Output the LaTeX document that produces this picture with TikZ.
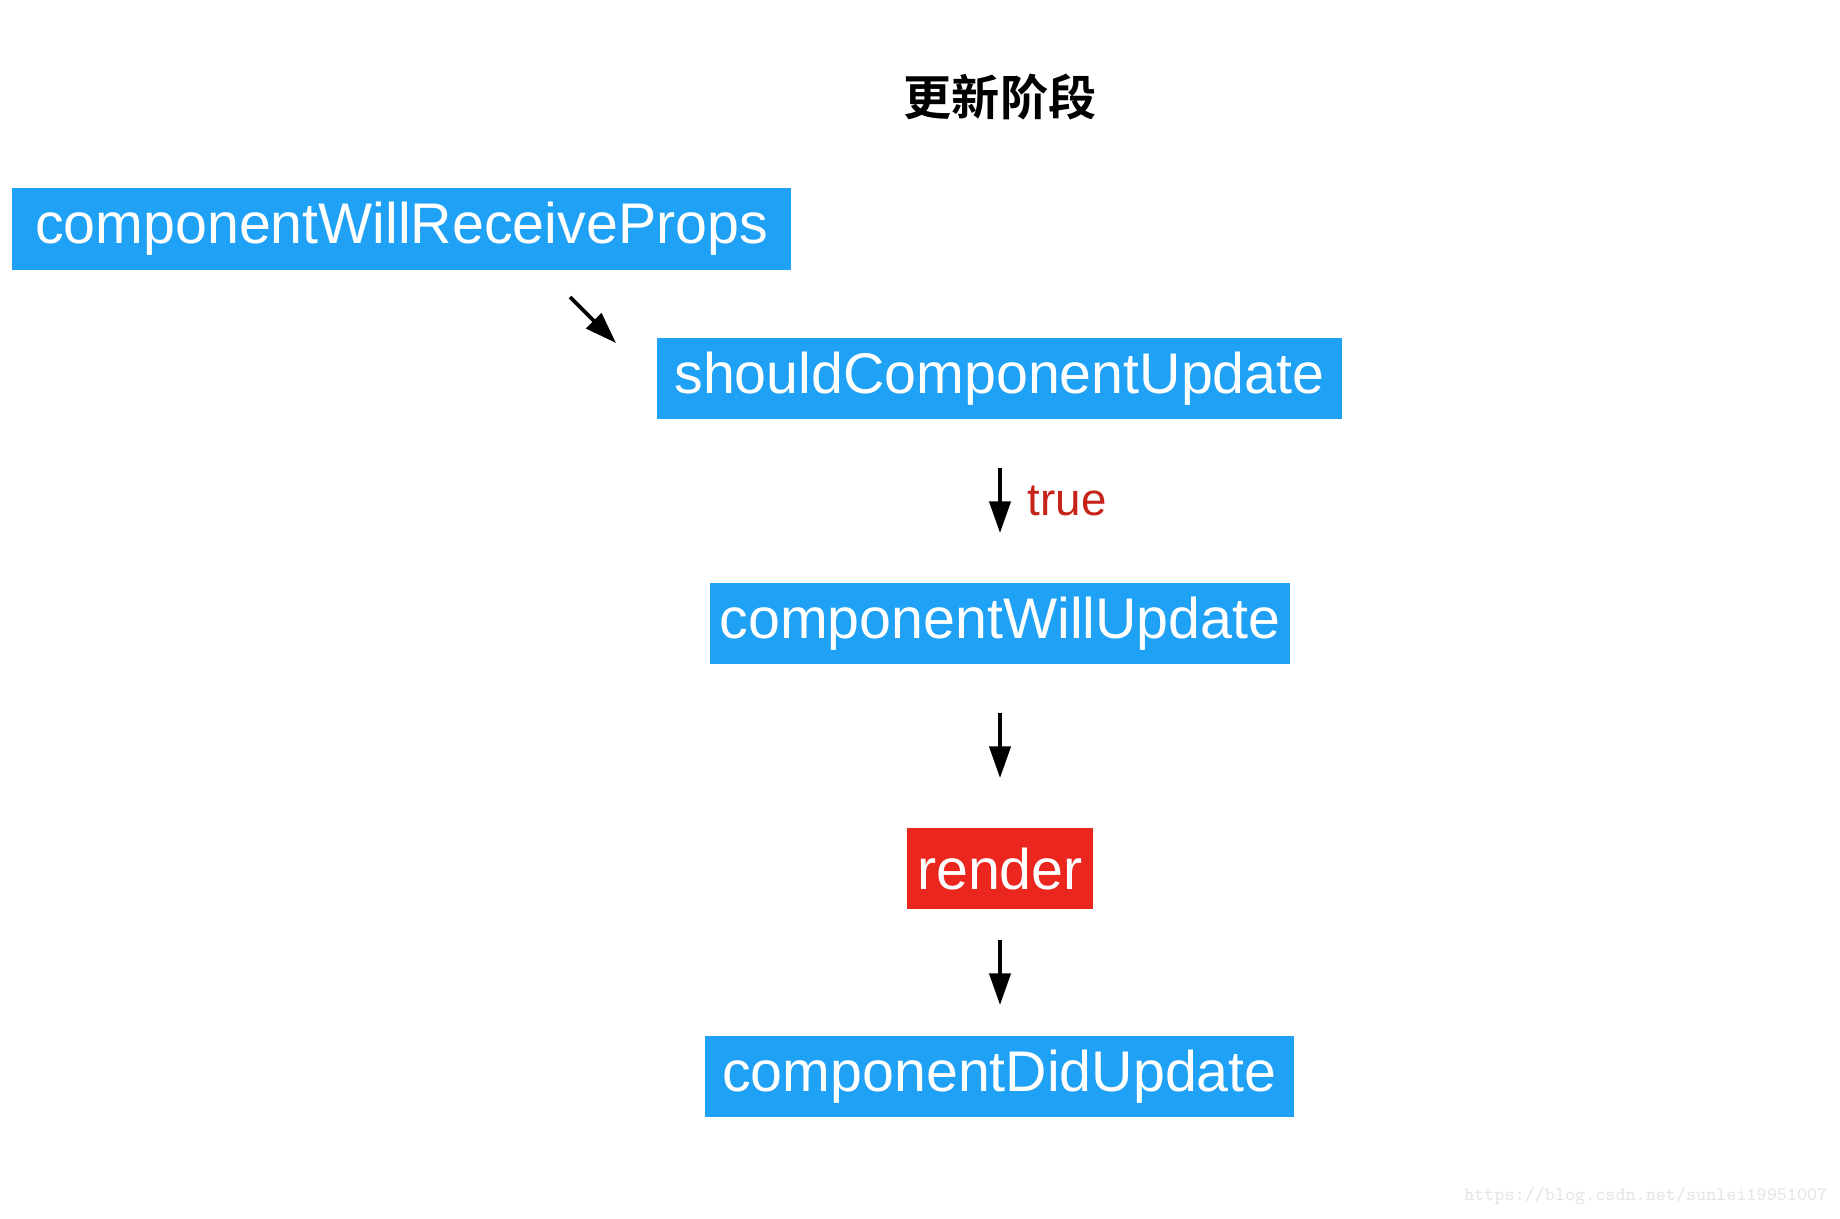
\documentclass[tikz,border=0pt]{standalone}
\usepackage{fontspec}
\setmainfont{Liberation Sans}
\newfontfamily\cjk{Noto Sans CJK SC}[BoldFont={Noto Sans CJK SC Bold}]
\definecolor{boxblue}{RGB}{31,161,245}
\definecolor{boxred}{RGB}{234,38,30}
\definecolor{truered}{RGB}{198,36,26}
\usetikzlibrary{arrows.meta}
\begin{document}
\begin{tikzpicture}[x=0.01cm,y=-0.01cm,
  lbl/.style={text=white,font=\fontsize{16.3}{18}\selectfont},
  arr/.style={-{Triangle[length=9pt,width=6pt]},line width=1.1pt}]
\useasboundingbox (0,0) rectangle (1840,1218);
\fill[boxblue] (12,188) rectangle (791,270);
\node[lbl] (a) at (401.5,229) {componentWillReceiveProps};
\fill[boxblue] (657,338) rectangle (1342,419);
\node[lbl] (b) at (999.5,378.5) {shouldComponentUpdate};
\fill[boxblue] (710,583) rectangle (1290,664);
\node[lbl] (c) at (1000,623.5) {componentWillUpdate};
\fill[boxred] (907,828) rectangle (1093,909);
\node[lbl] (d) at (1000,868.5) {render};
\fill[boxblue] (705,1036) rectangle (1294,1117);
\node[lbl] (e) at (999.5,1076.5) {componentDidUpdate};
\node[font=\cjk\bfseries\fontsize{13.7}{16}\selectfont] (t) at (1000,97) {更新阶段};
\coordinate (p1) at (570,297); \coordinate (p2) at (616,343);
\draw[arr] (p1) -- (p2);
\coordinate (q1) at (1000,468); \coordinate (q2) at (1000,533);
\draw[arr] (q1) -- (q2);
\node[text=truered,font=\fontsize{13}{15}\selectfont,anchor=west,inner sep=0pt] (tr) at (1027,501) {true};
\coordinate (r1) at (1000,713); \coordinate (r2) at (1000,778);
\draw[arr] (r1) -- (r2);
\coordinate (s1) at (1000,940); \coordinate (s2) at (1000,1005);
\draw[arr] (s1) -- (s2);
\node[text=black!10,font=\ttfamily\fontsize{5.4}{7}\selectfont,anchor=east,inner sep=0pt] (w) at (1828,1196) {https://blog.csdn.net/sunlei19951007};
\end{tikzpicture}
\end{document}
